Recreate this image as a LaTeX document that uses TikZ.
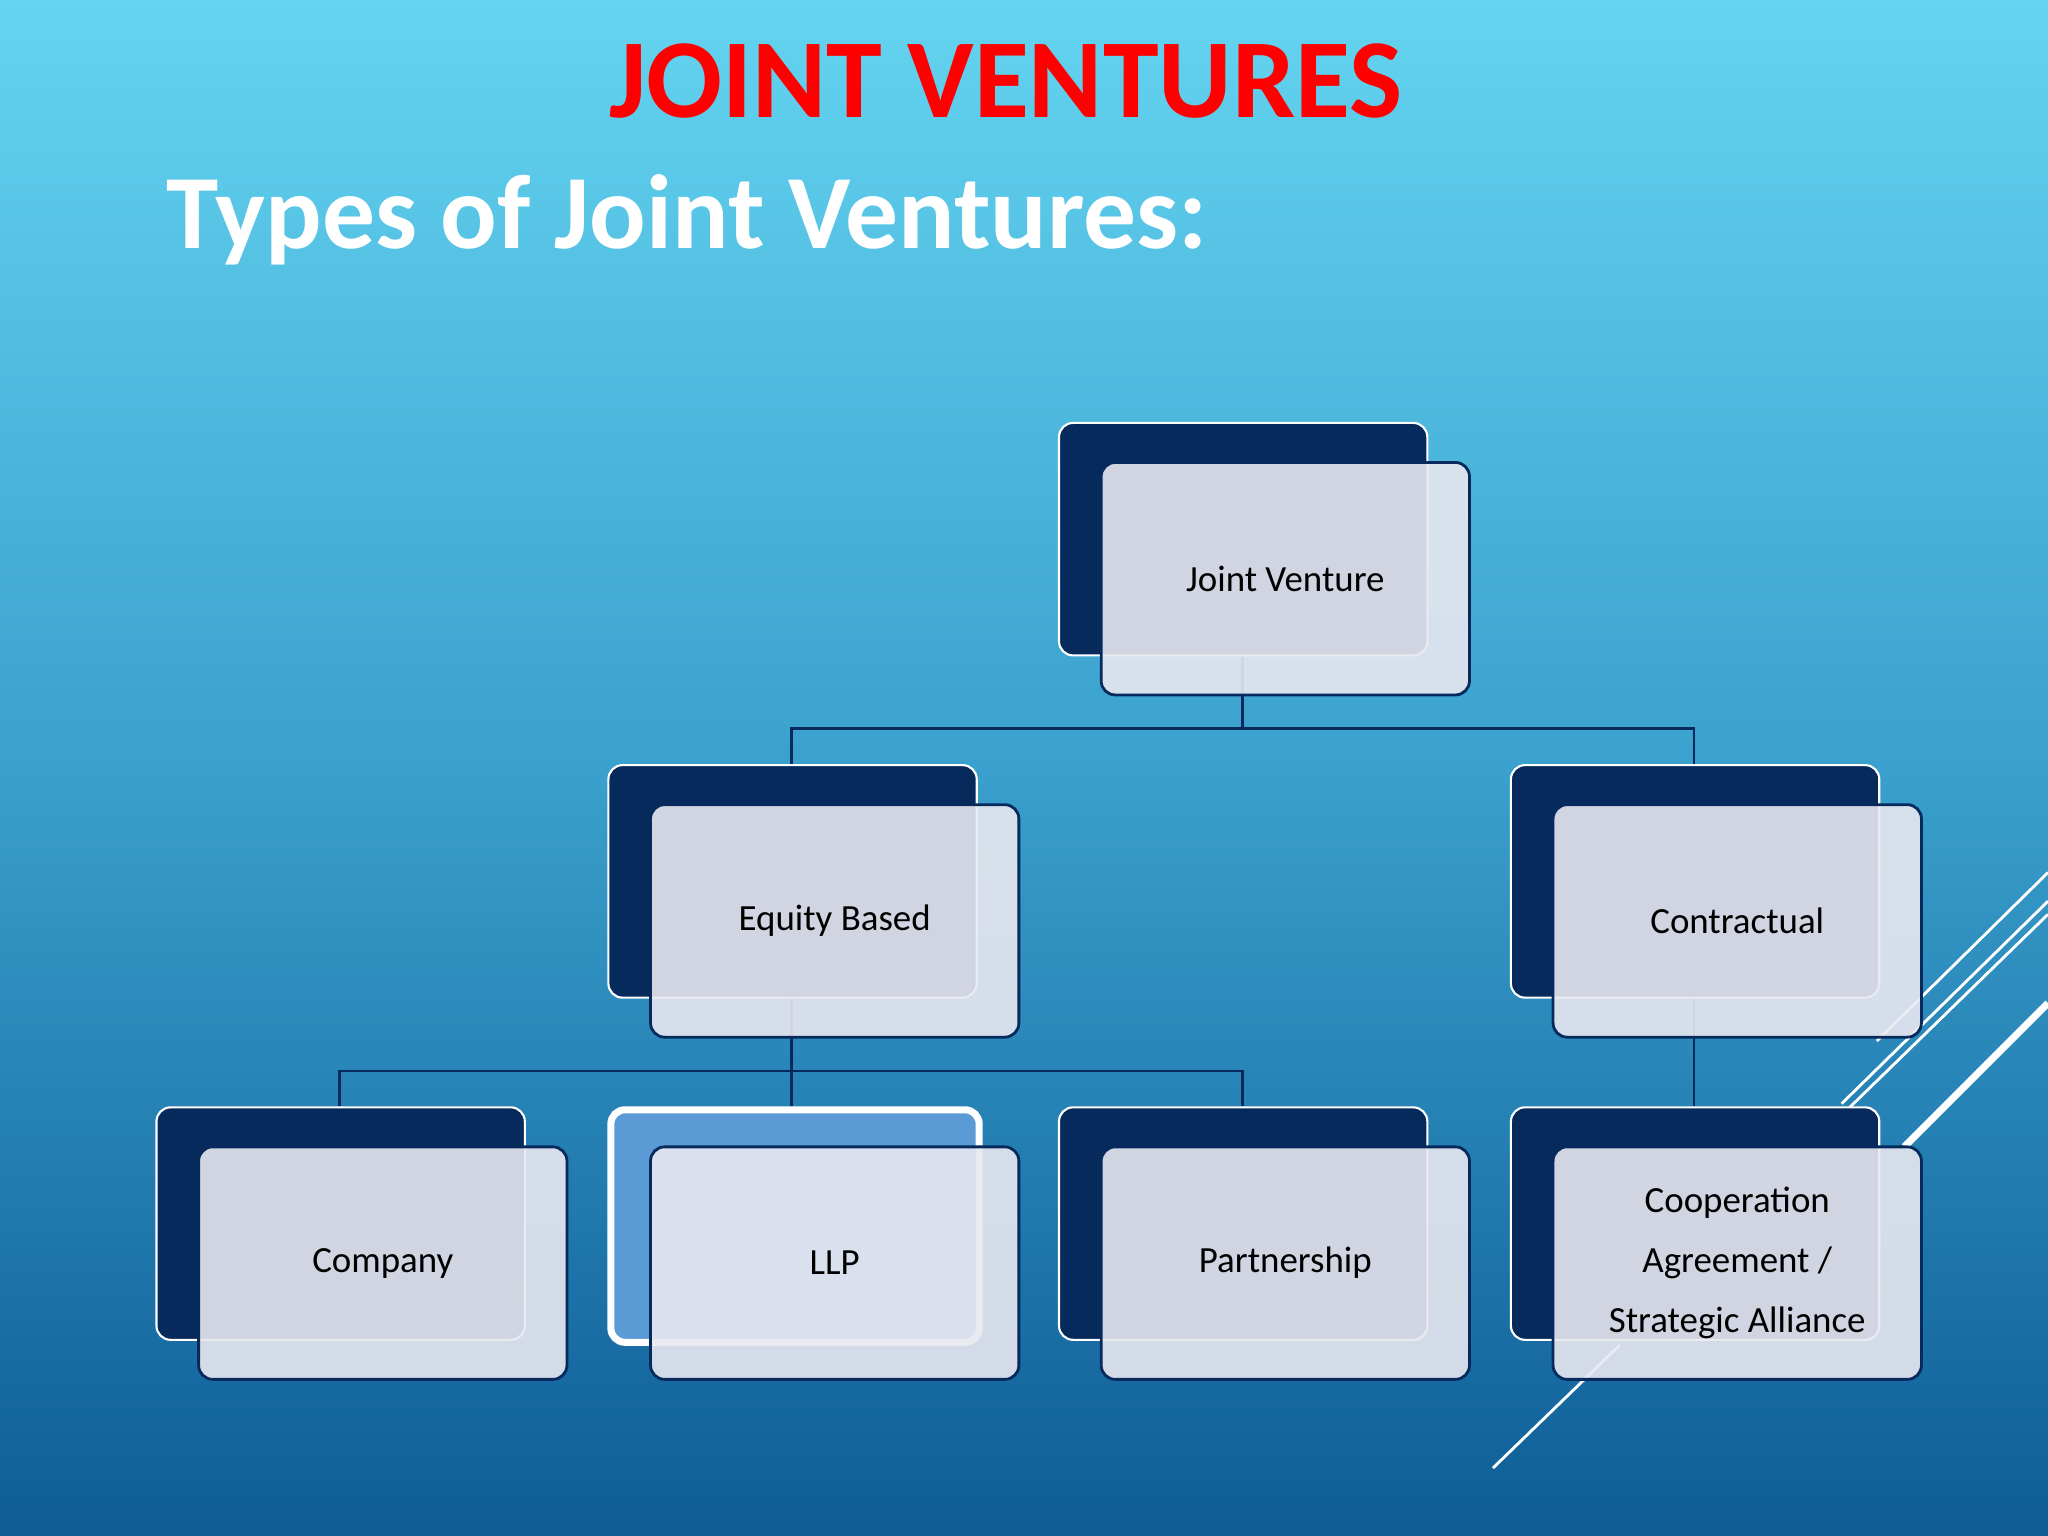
\documentclass[tikz,border=0pt]{standalone}
\usepackage{fontspec}
\setmainfont{Carlito}
\definecolor{navy}{HTML}{062A5C}
\definecolor{lblue}{HTML}{5B9BD5}
\definecolor{fr}{HTML}{E8E8F0}
\begin{document}
\begin{tikzpicture}[x=0.013061cm,y=-0.013061cm,
 back/.style={draw=white,line width=0.6pt,fill=navy,rounded corners=4pt,minimum width=282*0.013061cm,minimum height=178*0.013061cm,anchor=north west,inner sep=0pt},
 front/.style={draw=navy,line width=0.8pt,fill=fr,fill opacity=0.9,text opacity=1,rounded corners=4pt,minimum width=282*0.013061cm,minimum height=178*0.013061cm,anchor=north west,inner sep=0pt,font=\fontsize{10.5}{17}\selectfont,align=center},
 conn/.style={draw=navy,line width=0.8pt}]
\shade[top color={rgb,255:red,100;green,212;blue,240},bottom color={rgb,255:red,14;green,92;blue,150},middle color={rgb,255:red,58;green,160;blue,205}] (0,0) rectangle (1568,1176);
\useasboundingbox (0,0) rectangle (1568,1176);
\node[text=red,font=\bfseries\fontsize{32}{36}\selectfont] (title) at (770,62) {JOINT VENTURES};
\node[text=white,font=\bfseries\fontsize{30}{34}\selectfont,anchor=west] (sub) at (118,168) {Types of Joint Ventures:};
% decorative lines
\begin{scope}[white,line width=0.8pt]
\draw (1568,668)--(1437,797);
\draw (1568,690)--(1410,845);
\draw (1568,700)--(1416,848);
\draw[line width=2pt] (1568,768)--(1458,878);
\draw (1240,1030)--(1143,1124);
\end{scope}
% connectors
\coordinate (a1) at (951,531); \coordinate (a2) at (951,558);
\draw[conn] (951,500)--(a2) -| (606,585);
\draw[conn] (a2) -| (1297,585);
\draw[conn] (606,763)--(606,820) -| (260,847);
\draw[conn] (606,820) -| (951,847);
\draw[conn] (606,820)--(606,847);
\draw[conn] (1297,763)--(1297,847);
% boxes
\node[back] (jvb) at (810,323) {}; \node[front] (jv) at (842,353) {Joint Venture};
\node[back] (eqb) at (465,585) {}; \node[front] (eq) at (497,615) {Equity Based};
\node[back] (ctb) at (1156,585) {}; \node[front] (ct) at (1188,615) {Contractual};
\node[back] (cob) at (119,847) {}; \node[front] (co) at (151,877) {Company};
\node[back,fill=lblue,line width=2pt] (llb) at (465,847) {}; \node[front] (ll) at (497,877) {LLP};
\node[back] (pab) at (810,847) {}; \node[front] (pa) at (842,877) {Partnership};
\node[back] (cab) at (1156,847) {}; \node[front] (ca) at (1188,877) {Cooperation\\Agreement /\\Strategic Alliance};
\end{tikzpicture}
\end{document}
